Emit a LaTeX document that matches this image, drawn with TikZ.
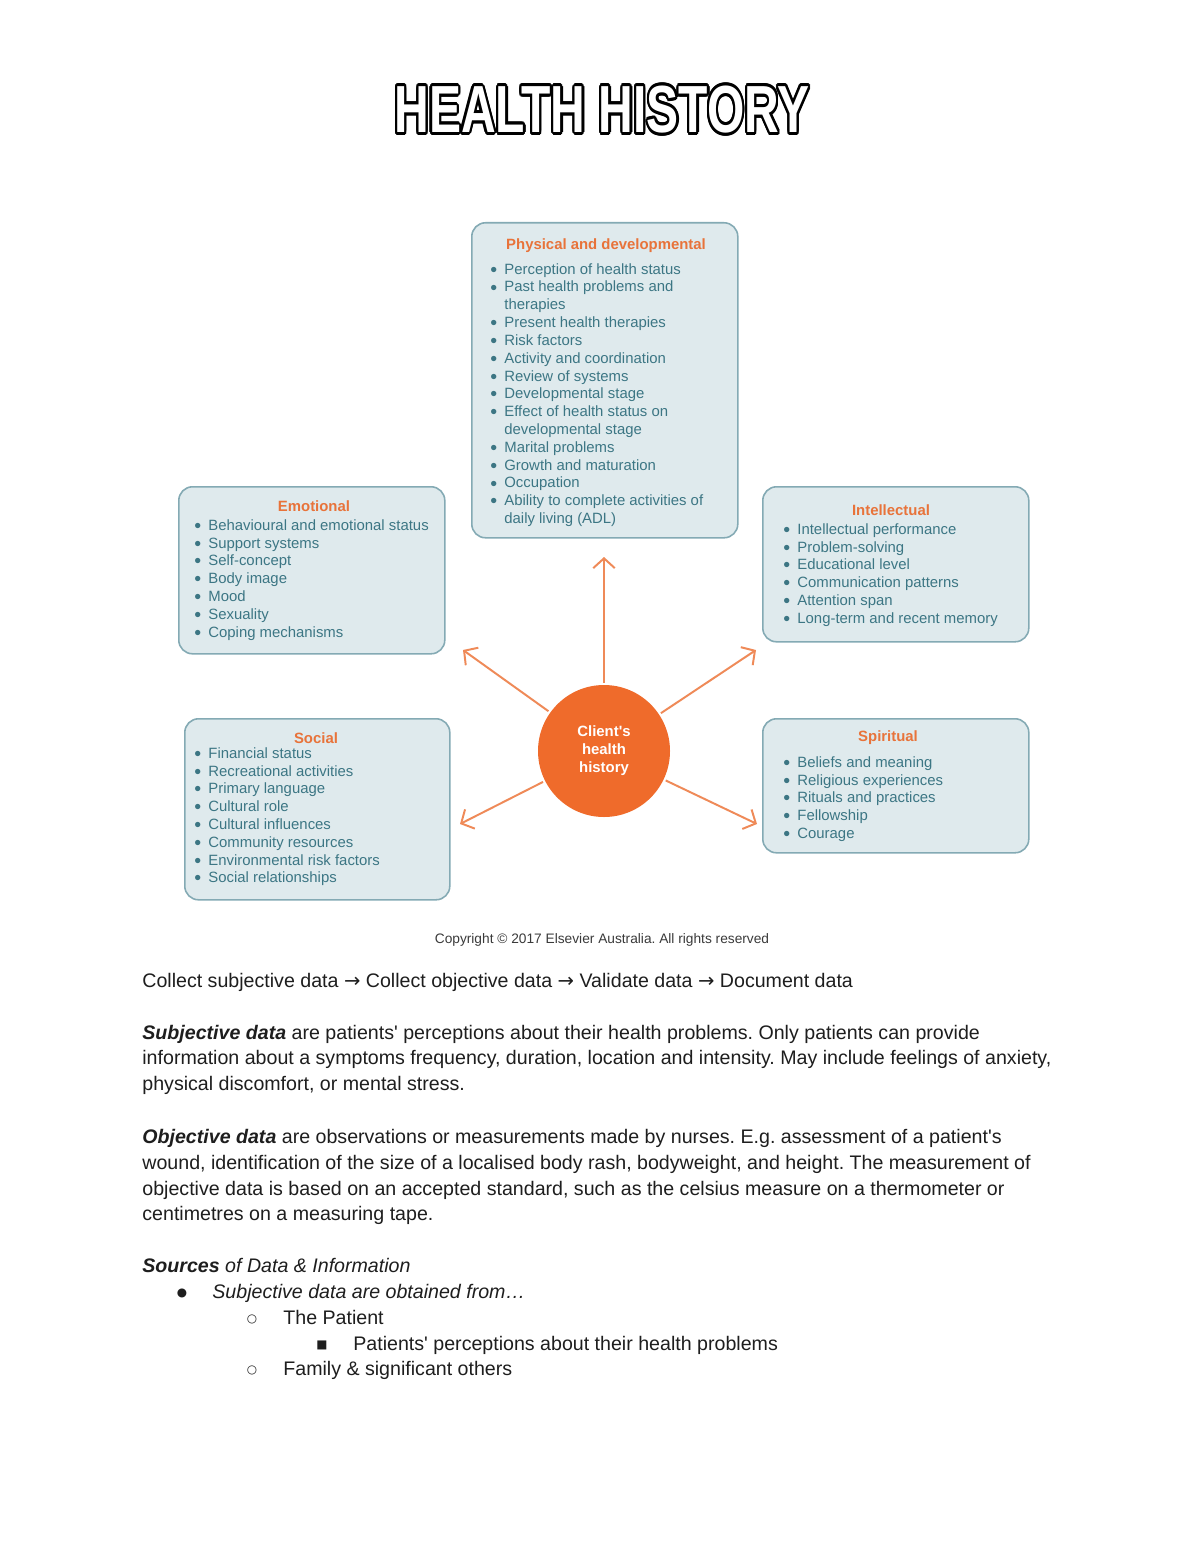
\documentclass[tikz,border=0pt]{standalone}
\usepackage{fontspec}
\setmainfont{Liberation Sans}
\newfontfamily\symfont{DejaVu Sans}
\usepackage{contour}
\usetikzlibrary{arrows.meta,positioning,calc}
\definecolor{ink}{HTML}{1E1E1E}
\definecolor{panelfill}{HTML}{DFEAED}
\definecolor{edge}{HTML}{84AAB4}
\definecolor{paneltext}{HTML}{3C7684}
\definecolor{headc}{HTML}{E8733A}
\definecolor{hub}{HTML}{EF6B2B}
\definecolor{spokec}{HTML}{EF8A58}
\definecolor{fine}{HTML}{3A3A3A}
\newdimen\pxu \pxu=0.51pt
\frenchspacing
\newcommand{\bul}{\makebox[14\pxu][l]{\raisebox{-1.1pt}{\fontsize{10}{9}\selectfont\textbullet}}}
\newcommand{\cont}{\hspace*{14\pxu}}
\newcommand{\ap}{\textquotesingle}
\newcommand{\tto}{{\symfont →}}
\tikzset{panel/.style={draw=edge,fill=panelfill,line width=0.8pt,rounded corners=7pt,anchor=north west,inner sep=0pt},
  panelhead/.style={font=\fontsize{7.6}{9.1}\selectfont\bfseries,text=headc,inner sep=0pt},
  panellist/.style={font=\fontsize{7.6}{9.08}\selectfont,text=paneltext,align=left,anchor=north west,inner sep=0pt},
  hubc/.style={circle,fill=hub,minimum size=132\pxu,inner sep=0pt,text=white,font=\fontsize{7.6}{9.2}\selectfont\bfseries,align=center},
  spoke/.style={draw=spokec,line width=1pt,-{Straight Barb[length=5pt,width=11pt]},shorten <=1pt},
  txtline/.style={anchor=base west,inner sep=0pt,text=ink,font=\fontsize{10}{13}\selectfont},
  dotmark/.style={inner sep=0pt,text=ink,font=\symfont\fontsize{6}{7}\selectfont}}
\begin{document}
\begin{tikzpicture}[x=\pxu,y=-\pxu]
\path[fill=white,use as bounding box] (0,0) rectangle (1200,1553);
% title
\node[font=\fontsize{34}{34}\selectfont\bfseries,text=white,inner sep=0pt] (title) at (602,111)
  {\scalebox{0.72}[1]{\contourlength{1.6pt}\contour{black}{HEALTH HISTORY}}};
% panels
\node[panel,minimum width=266\pxu,minimum height=315\pxu] (phys) at (471,222) {};
\node[panel,minimum width=266\pxu,minimum height=167\pxu] (emo) at (178,486) {};
\node[panel,minimum width=266\pxu,minimum height=155\pxu] (intel) at (762,486) {};
\node[panel,minimum width=265\pxu,minimum height=181\pxu] (soc) at (184,718) {};
\node[panel,minimum width=266\pxu,minimum height=134\pxu] (spir) at (762,718) {};
\node[panelhead] (physh) at (606,246) {Physical and developmental};
\node[panelhead] (emoh) at (314,506) {Emotional};
\node[panelhead] (intelh) at (891,510) {Intellectual};
\node[panelhead] (soch) at (316,738) {Social};
\node[panelhead] (spirh) at (888,738) {Spiritual};
\node[panellist] (physl) at (490,263) {\bul Perception of health status\\
  \bul Past health problems and\\ \cont therapies\\
  \bul Present health therapies\\ \bul Risk factors\\
  \bul Activity and coordination\\ \bul Review of systems\\
  \bul Developmental stage\\ \bul Effect of health status on\\
  \cont developmental stage\\ \bul Marital problems\\
  \bul Growth and maturation\\ \bul Occupation\\
  \bul Ability to complete activities of\\ \cont daily living (ADL)};
\node[panellist] (emol) at (194,519) {\bul Behavioural and emotional status\\
  \bul Support systems\\ \bul Self-concept\\ \bul Body image\\
  \bul Mood\\ \bul Sexuality\\ \bul Coping mechanisms};
\node[panellist] (intell) at (783,523) {\bul Intellectual performance\\
  \bul Problem-solving\\ \bul Educational level\\
  \bul Communication patterns\\ \bul Attention span\\
  \bul Long-term and recent memory};
\node[panellist] (socl) at (194,747) {\bul Financial status\\
  \bul Recreational activities\\ \bul Primary language\\
  \bul Cultural role\\ \bul Cultural influences\\
  \bul Community resources\\ \bul Environmental risk factors\\
  \bul Social relationships};
\node[panellist] (spirl) at (783,756) {\bul Beliefs and meaning\\
  \bul Religious experiences\\ \bul Rituals and practices\\
  \bul Fellowship\\ \bul Courage};
% hub and spokes
\node[hubc] (client) at (604,751) {Client\ap s\\health\\history};
\coordinate (tipN) at (604,557);
\coordinate (tipNW) at (463,650);
\coordinate (tipNE) at (756,650);
\coordinate (tipSW) at (460,824);
\coordinate (tipSE) at (757,824);
\foreach \t in {tipN,tipNW,tipNE,tipSW,tipSE}
  \draw[spoke] (client) -- (\t);
\node[inner sep=0pt,text=fine,font=\fontsize{7}{8}\selectfont] (copy) at (602,940)
  {Copyright © 2017 Elsevier Australia. All rights reserved};
% notes below
\node[txtline] (flow) at (142,987) {Collect subjective data \tto{} Collect objective data \tto{} Validate data \tto{} Document data};
\node[txtline] (subj1) at (142,1039) {\textbf{\textit{Subjective data}} are patients\ap{} perceptions about their health problems. Only patients can provide};
\node[txtline] (subj2) at (142,1064) {information about a symptoms frequency, duration, location and intensity. May include feelings of anxiety,};
\node[txtline] (subj3) at (142,1090) {physical discomfort, or mental stress.};
\node[txtline] (obj1) at (142,1143) {\textbf{\textit{Objective data}} are observations or measurements made by nurses. E.g. assessment of a patient\ap s};
\node[txtline] (obj2) at (142,1169) {wound, identification of the size of a localised body rash, bodyweight, and height. The measurement of};
\node[txtline] (obj3) at (142,1195) {objective data is based on an accepted standard, such as the celsius measure on a thermometer or};
\node[txtline] (obj4) at (142,1220) {centimetres on a measuring tape.};
\node[txtline] (src) at (142,1272) {\textbf{\textit{Sources}} \textit{of Data \& Information}};
\node[dotmark] (m1) at (182,1293) {●};
\node[txtline] (lvl1) at (212,1298) {\textit{Subjective data are obtained from…}};
\node[dotmark] (m2) at (252,1319) {○};
\node[txtline] (lvl2) at (283,1324) {The Patient};
\node[dotmark] (m3) at (322,1345) {■};
\node[txtline] (lvl3) at (353,1350) {Patients\ap{} perceptions about their health problems};
\node[dotmark] (m4) at (252,1370) {○};
\node[txtline] (lvl4) at (283,1375) {Family \& significant others};
\end{tikzpicture}
\end{document}
